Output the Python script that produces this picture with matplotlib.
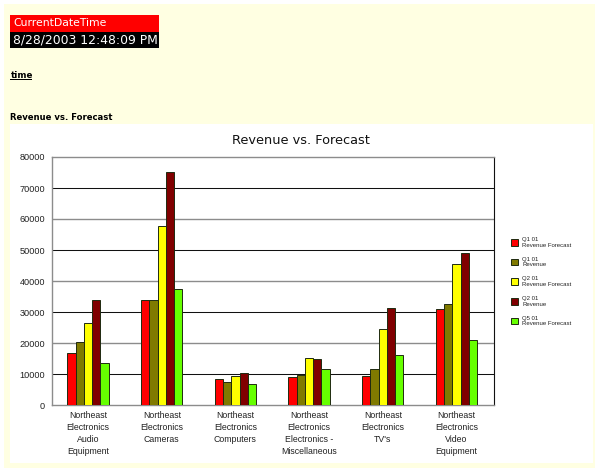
import matplotlib
matplotlib.use("Agg")
import matplotlib.pyplot as plt
from matplotlib.patches import Rectangle
import numpy as np

categories = ["Northeast\nElectronics\nAudio\nEquipment", "Northeast\nElectronics\nCameras",
              "Northeast\nElectronics\nComputers", "Northeast\nElectronics\nElectronics -\nMiscellaneous",
              "Northeast\nElectronics\nTV's", "Northeast\nElectronics\nVideo\nEquipment"]
series_names = ["Q1 01\nRevenue Forecast", "Q1 01\nRevenue", "Q2 01\nRevenue Forecast",
                "Q2 01\nRevenue", "Q5 01\nRevenue Forecast"]
q1_forecast = [16800, 34000, 8500, 8900, 9200, 31000]
q1_revenue = [20300, 34000, 7500, 9700, 11500, 32600]
q2_forecast = [26400, 57800, 9200, 15300, 24600, 45500]
q2_revenue = [34000, 75000, 10200, 14800, 31300, 49000]
q5_forecast = [13700, 37500, 6900, 11500, 16200, 21000]
series_values = [q1_forecast, q1_revenue, q2_forecast, q2_revenue, q5_forecast]
colors = ["#FF0000", "#807A00", "#FFFF00", "#800000", "#66FF00"]
y_ticks = [0, 10000, 20000, 30000, 40000, 50000, 60000, 70000, 80000]

W, H = 601, 473
def fx(x): return x / W
def fy(y): return 1 - y / H

fig = plt.figure(figsize=(W / 100, H / 100), dpi=100, facecolor="#FFFFE2")
SANS = "Liberation Sans"

def box(x0, y0, x1, y1, color, z=0):
    fig.add_artist(Rectangle((fx(x0), fy(y1)), (x1 - x0) / W, (y1 - y0) / H, transform=fig.transFigure,
                             facecolor=color, edgecolor="none", zorder=z))

box(0, 0, 4, H, "#FFFFFF"); box(0, 0, W, 4, "#FFFFFF"); box(595, 0, W, H, "#FFFFFF"); box(0, 468, W, H, "#FFFFFF")
box(10, 124, 593, 463, "#FFFFFF")
box(10, 15, 159, 32, "#FF0000")
box(10, 32, 159, 48, "#000000")
fig.text(fx(13), fy(23.5), "CurrentDateTime", color="#FFFFFF", fontsize=7.8, family="DejaVu Sans", va="center", ha="left", zorder=3)
fig.text(fx(13), fy(40), "8/28/2003 12:48:09 PM", color="#FFFFFF", fontsize=8.9, family="DejaVu Sans", va="center", ha="left", zorder=3)
fig.text(fx(10.5), fy(75), "time", color="#000000", fontsize=6.3, family="DejaVu Sans", weight="bold", va="center", ha="left", zorder=3)
box(10.5, 79, 32, 80, "#000000", 3)
fig.text(fx(10.5), fy(117), "Revenue vs. Forecast", color="#000000", fontsize=6.1, family="DejaVu Sans", weight="bold", va="center", ha="left", zorder=3)
fig.text(fx(301), fy(140), "Revenue vs. Forecast", color="#111111", fontsize=9.3, family="DejaVu Sans", va="center", ha="center", zorder=3)

ax = fig.add_axes([fx(52), fy(405), (494 - 52) / W, (405 - 157) / H], facecolor="#FFFFFF")
x = np.arange(len(categories))
width = 0.112
for i, (vals, c, name) in enumerate(zip(series_values, colors, series_names)):
    ax.bar(x + (i - 2) * width, vals, width, color=c, edgecolor="#1f2a10", linewidth=0.7, zorder=3, label=name)
for t in y_ticks[1:-1]:
    even = t % 20000 == 0
    ax.axhline(t, color="#8c8c8c" if even else "#111111", lw=1.0 if even else 0.75, zorder=1)
ax.set_xlim(-0.49, 5.51)
ax.set_ylim(0, 80000)
ax.set_yticks(y_ticks)
ax.set_xticks(x)
ax.set_xticklabels(categories, fontsize=6.3, family=SANS, color="#222222", linespacing=1.4)
ax.tick_params(axis="y", labelsize=6.6, length=0, pad=5, labelcolor="#222222")
ax.tick_params(axis="x", length=0, pad=4.5)
for lab in ax.get_yticklabels():
    lab.set_family(SANS)
for side in ("left", "top", "bottom"):
    ax.spines[side].set_color("#8c8c8c"); ax.spines[side].set_linewidth(1.0)
ax.spines["right"].set_color("#111111"); ax.spines["right"].set_linewidth(0.8)

leg = ax.legend(loc="upper left", bbox_to_anchor=(fx(511), fy(237)), bbox_transform=fig.transFigure,
                frameon=False, prop={"family": SANS, "size": 4.3}, ncol=1,
                handlelength=1.15, handleheight=1.3, handletextpad=0.75, labelspacing=1.48,
                borderpad=0, borderaxespad=0)
plt.setp(leg.get_texts(), color="#222222")
fig.savefig("out.png", dpi=100, facecolor=fig.get_facecolor())
